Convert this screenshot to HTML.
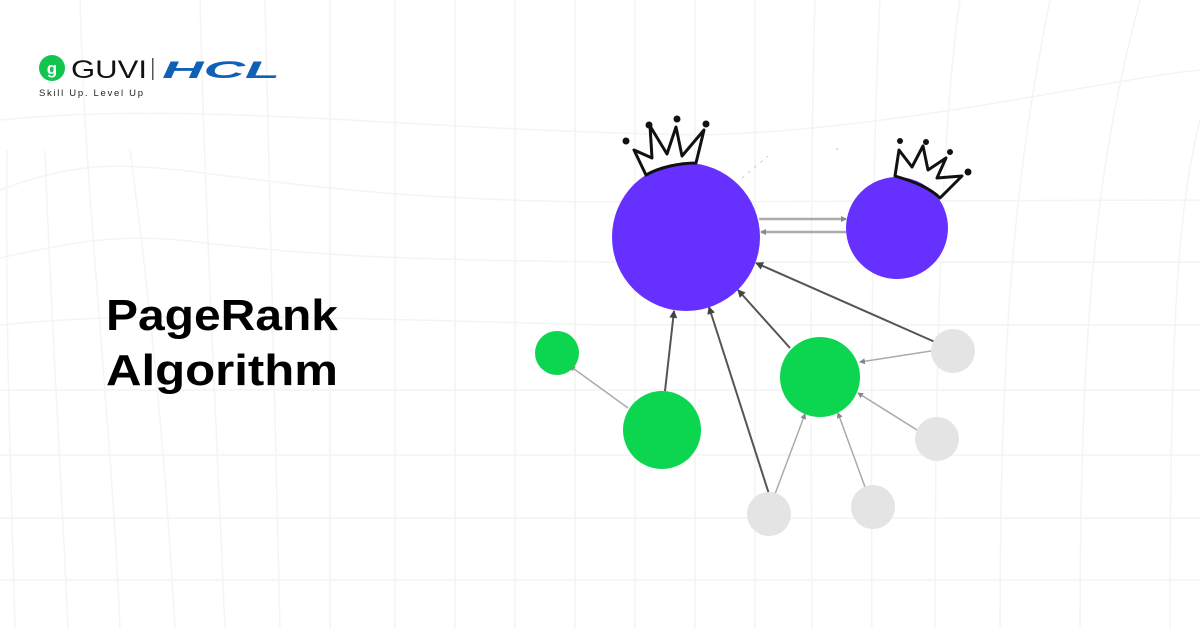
<!DOCTYPE html>
<html><head><meta charset="utf-8"><style>
html,body{margin:0;padding:0;background:#fff}
svg{display:block}
</style></head><body>
<svg width="1200" height="628" viewBox="0 0 1200 628" xmlns="http://www.w3.org/2000/svg">
<defs>
<marker id="ad" markerWidth="8" markerHeight="8" refX="7" refY="4" orient="auto" markerUnits="userSpaceOnUse"><path d="M0,0 L8,4 L0,8 z" fill="#444"/></marker>
<marker id="al" markerWidth="6" markerHeight="6" refX="5" refY="3" orient="auto" markerUnits="userSpaceOnUse"><path d="M0,0 L6,3 L0,6 z" fill="#888"/></marker>
</defs>
<rect width="1200" height="628" fill="#fff"/>
<g stroke="#f4f4f4" stroke-width="1.5" fill="none">
<path d="M0,190 C80,160 120,165 180,170 C300,185 400,200 600,202 L1200,200"/>
<path d="M0,258 C80,240 120,235 180,240 C300,255 400,260 600,262 L1200,262"/>
<path d="M0,325 C100,315 200,313 600,325 L1200,325"/>
<path d="M0,390 L1200,390"/>
<path d="M0,455 L1200,455"/>
<path d="M0,518 L1200,518"/>
<path d="M0,580 L1200,580"/>
<path d="M0,120 C200,100 400,130 700,135 C900,130 1100,80 1200,70"/>
<path d="M7,150 C5,300 10,450 15,628"/>
<path d="M45,150 C50,300 60,450 68,628"/>
<path d="M80,0 C85,200 110,400 120,628"/>
<path d="M130,150 C150,300 165,450 175,628"/>
<path d="M200,0 C205,200 215,400 225,628"/>
<path d="M265,0 C270,200 275,400 280,628"/>
<path d="M330,0 L330,628"/>
<path d="M395,0 L395,628"/>
<path d="M455,0 L455,628"/>
<path d="M515,0 L515,628"/>
<path d="M575,0 L575,628"/>
<path d="M635,0 L635,628"/>
<path d="M695,0 L695,628"/>
<path d="M755,0 L755,628"/>
<path d="M815,0 C812,100 810,300 812,628"/>
<path d="M880,0 C875,100 870,300 872,628"/>
<path d="M960,0 C945,100 935,300 935,628"/>
<path d="M1050,0 C1020,150 1000,300 1000,628"/>
<path d="M1140,0 C1100,150 1080,300 1080,628"/>
<path d="M1200,120 C1180,200 1170,300 1170,628"/>
</g>
<!-- logo -->
<circle cx="52" cy="68" r="13" fill="#12c54f"/>
<text x="52" y="74" font-family="Liberation Sans,sans-serif" font-size="17" font-weight="bold" fill="#fff" text-anchor="middle">g</text>
<text x="71" y="78" font-family="Liberation Sans,sans-serif" font-size="25" fill="#111" textLength="76" lengthAdjust="spacingAndGlyphs">GUVI</text>
<rect x="152" y="58" width="1.5" height="22" fill="#555"/>
<text x="162" y="78" font-family="Liberation Sans,sans-serif" font-size="24" font-weight="bold" font-style="italic" fill="#1060b8" textLength="118" lengthAdjust="spacingAndGlyphs">HCL</text>
<text x="39" y="96" font-family="Liberation Sans,sans-serif" font-size="9.5" fill="#222" textLength="104" lengthAdjust="spacing">Skill Up. Level Up</text>
<!-- title -->
<text x="106" y="330" font-family="Liberation Sans,sans-serif" font-size="44" font-weight="bold" fill="#000" textLength="232" lengthAdjust="spacingAndGlyphs">PageRank</text>
<text x="106" y="385" font-family="Liberation Sans,sans-serif" font-size="44" font-weight="bold" fill="#000" textLength="232" lengthAdjust="spacingAndGlyphs">Algorithm</text>
<!-- edges -->
<g stroke-width="2" fill="none">
<line x1="769" y1="494" x2="709" y2="307" stroke="#555" marker-end="url(#ad)"/>
<line x1="775" y1="494" x2="805" y2="414" stroke="#aaa" stroke-width="1.5" marker-end="url(#al)"/>
<line x1="865" y1="487" x2="838" y2="413" stroke="#aaa" stroke-width="1.5" marker-end="url(#al)"/>
<line x1="917" y1="430" x2="858" y2="393" stroke="#aaa" stroke-width="1.5" marker-end="url(#al)"/>
<line x1="931" y1="351" x2="860" y2="362" stroke="#aaa" stroke-width="1.5" marker-end="url(#al)"/>
<line x1="935" y1="342" x2="756" y2="263" stroke="#555" marker-end="url(#ad)"/>
<line x1="790" y1="348" x2="738" y2="290" stroke="#555" marker-end="url(#ad)"/>
<line x1="665" y1="391" x2="674" y2="311" stroke="#555" marker-end="url(#ad)"/>
<line x1="628" y1="408" x2="570" y2="366" stroke="#aaa" stroke-width="1.5" marker-end="url(#al)"/>
<line x1="759" y1="219" x2="846" y2="219" stroke="#aaa" stroke-width="2.5" marker-end="url(#al)"/>
<line x1="846" y1="232" x2="761" y2="232" stroke="#aaa" stroke-width="2.5" marker-end="url(#al)"/>
<line x1="742" y1="178" x2="768" y2="156" stroke="#ccc" stroke-width="1" stroke-dasharray="3,5"/>
<line x1="836" y1="148" x2="838" y2="150" stroke="#ccc" stroke-width="1"/>
</g>
<!-- nodes -->
<circle cx="686" cy="237" r="74" fill="#6631ff"/>
<circle cx="897" cy="228" r="51" fill="#6631ff"/>
<circle cx="557" cy="353" r="22" fill="#0cd54f"/>
<circle cx="662" cy="430" r="39" fill="#0cd54f"/>
<circle cx="820" cy="377" r="40" fill="#0cd54f"/>
<circle cx="953" cy="351" r="22" fill="#e4e4e4"/>
<circle cx="937" cy="439" r="22" fill="#e4e4e4"/>
<circle cx="873" cy="507" r="22" fill="#e4e4e4"/>
<circle cx="769" cy="514" r="22" fill="#e4e4e4"/>
<!-- crowns -->
<g fill="none" stroke="#111" stroke-width="3" stroke-linejoin="round" stroke-linecap="round">
<path d="M646,175 L634,150 L652,158 L650,126 L667,154 L676,127 L682,156 L704,130 L696,163 C680,163 660,167 646,175"/>
<path d="M895,176 L899,150 L912,167 L923,146 L928,170 L946,158 L937,178 L962,176 L940,198 C930,188 915,182 895,176"/>
</g>
<g fill="#111">
<circle cx="626" cy="141" r="3.5"/><circle cx="649" cy="125" r="3.5"/><circle cx="677" cy="119" r="3.5"/><circle cx="706" cy="124" r="3.5"/>
<circle cx="900" cy="141" r="3"/><circle cx="926" cy="142" r="3"/><circle cx="950" cy="152" r="3"/><circle cx="968" cy="172" r="3.5"/>
</g>
</svg>
</body></html>
